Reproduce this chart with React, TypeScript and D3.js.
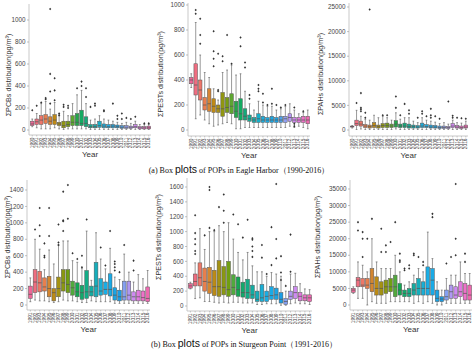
import React from "react";
import * as d3 from "d3";

// ---------- DATA ----------
const yearsEH = ["1990","1991","1992","1993","1994","1995","1996","1997","1998","1999","2000","2001","2002","2003","2004","2005","2006","2007","2008","2009","2010","2011","2012","2013","2014","2015","2016"];
const yearsSP = ["1991","1992","1993","1994","1995","1996","1997","1998","1999","2000","2001","2002","2003","2004","2005","2006","2007","2008","2009","2010","2011","2012","2013","2014","2015","2016"];

// [whiskerLow, q1, median, q3, whiskerHigh]
const pcbsEH = [[30,40,55,80,100],[20,50,75,100,150],[10,50,90,130,240],[10,60,100,140,260],[10,50,80,120,190],[20,50,90,140,250],[10,40,55,70,130],[5,20,40,80,170],[10,30,50,80,130],[10,40,70,130,240],[10,40,70,150,320],[10,40,60,180,360],[10,30,60,120,240],[5,20,30,50,90],[5,20,30,50,100],[5,25,40,80,130],[5,20,35,55,100],[5,20,30,50,90],[5,20,35,50,80],[5,20,30,45,70],[5,15,25,40,60],[5,15,25,40,70],[5,15,25,35,60],[5,20,30,50,80],[5,10,20,30,50],[5,10,20,30,50],[5,10,20,35,50]];
const pcbsEHOut = [[180],[220],[250],[280,290],[1100,510,350,240],[470,360,270],[150,135],[230,210],[220,200],[],[380],[440,400],[380,300],[210],[240,220],[],[180,170],[],[240],[130,100],[150,100],[110],[100],[120],[],[60],[60]];

const pestsEH = [[340,370,400,420,450],[90,280,360,530,860],[120,240,320,400,600],[80,160,200,260,460],[50,150,210,330,420],[30,140,190,250,330],[40,140,170,200,240],[50,110,170,300,460],[60,140,180,260,480],[50,130,190,290,520],[10,100,150,230,440],[10,80,130,250,450],[20,80,110,170,310],[20,70,90,120,210],[20,60,80,100,160],[20,60,90,130,230],[20,60,80,110,200],[20,60,80,100,190],[20,60,80,110,190],[20,60,80,100,160],[20,60,80,110,170],[20,60,90,110,190],[30,70,100,130,210],[20,60,80,100,160],[30,60,80,100,130],[20,60,80,110,140],[10,50,80,110,160]];
const pestsEHOut = [[],[960,930],[890,760,690],[],[],[790,630,570,510],[610,320,310],[590,550],[760],[530],[],[740,670],[540,500],[280,250],[],[360,330,310],[290,220],[200],[330,210],[200],[180],[200],[],[180,50,30],[],[150],[]];

const pahsEH = [[400,600,700,800,900],[100,900,1300,2000,4000],[200,800,1200,1800,2800],[100,500,800,1100,2200],[100,400,700,1000,2000],[100,500,900,1500,3000],[100,400,700,1000,2500],[100,500,900,1300,2800],[100,500,900,1400,2500],[100,500,800,1200,2000],[200,600,1200,1900,3500],[100,500,800,1200,2200],[100,500,800,1400,2500],[100,400,700,1200,2500],[100,400,700,1000,1800],[100,400,600,900,1500],[100,500,800,1400,2500],[100,500,700,1100,2000],[100,400,600,1000,1800],[100,400,600,900,1600],[100,300,500,800,1300],[100,300,500,800,1500],[100,300,500,700,1200],[100,500,800,1300,2000],[100,400,600,900,1500],[100,300,500,800,1400],[100,400,600,1000,1800]];
const pahsEHOut = [[],[5500],[7500,4500,4200,3800],[3500,2500],[24500],[],[],[3000],[3000],[],[6800,4500],[3000],[5300],[4000,3300],[],[2500],[3800,3300],[2800],[4300,3000,2500],[2800],[2300],[],[5800],[2900,2500],[2500],[2400],[2300]];

const pcbsSP = [[40,80,130,230,330],[60,150,280,430,800],[50,160,270,410,680],[50,170,220,330,430],[40,100,200,350,670],[30,50,150,200,500],[40,100,200,340,730],[60,170,270,430,780],[50,150,250,430,780],[50,120,210,290,540],[40,100,160,270,520],[30,70,150,240,450],[30,80,160,420,900],[50,110,160,230,300],[40,100,230,520,880],[40,120,170,320,560],[40,130,190,280,440],[40,110,190,380,690],[20,60,120,210,340],[20,50,100,180,310],[20,60,100,290,620],[20,60,120,290,400],[20,50,100,160,280],[20,50,100,180,370],[20,50,90,170,320],[20,40,80,220,420]];
const pcbsSPOut = [[],[920],[1180,970,840],[750,600,580],[1180,840],[],[980,760,730],[1380,1030,1020,900],[1460,1050],[630],[560],[600,460],[1040],[],[],[700],[480],[900],[530,500,460,420],[400],[730],[],[540,420],[],[],[]];

const pestsSP = [[230,240,270,300,320],[100,270,330,430,580],[110,270,380,580,1040],[60,200,330,510,760],[60,170,320,520,1000],[50,140,260,480,1000],[40,130,260,610,1080],[50,150,250,530,1000],[40,130,220,600,1120],[50,150,250,420,900],[50,130,220,390,720],[40,120,180,320,620],[40,100,180,360,720],[40,100,150,280,540],[20,60,90,200,460],[20,60,110,290,460],[30,60,130,200,400],[30,90,140,260,450],[30,90,150,240,430],[10,40,90,180,400],[10,20,60,100,200],[30,90,130,200,430],[40,100,180,260,440],[30,70,130,180,300],[30,70,110,150,230],[20,60,110,150,220]];
const pestsSPOut = [[],[1220,980,900,830,740,700],[],[950],[1600,1560,1050],[1020],[1330],[1500,1280,1120],[],[1230],[1100],[920],[1160],[910,890,800,740,660],[],[820,650],[430],[1060,550],[1640,900,640],[670,450,350],[270],[960,460],[],[],[],[]];

const pahsSP = [[3500,3800,4500,5000,5500],[2000,5500,7500,8300,13000],[2000,5500,6000,8000,12000],[0,5000,6000,8000,10000],[1000,4000,6500,11000,20000],[500,3000,5000,8500,13000],[500,3000,5000,7000,11000],[500,3500,5500,7500,11000],[1000,4000,5500,8000,11000],[1000,2500,5500,9000,15000],[1000,3000,4500,6500,10000],[1000,2500,3500,4500,6000],[1000,2500,3500,5000,7000],[500,3000,4500,6500,9000],[1000,3000,5000,8000,11000],[500,3000,5000,7000,10000],[1000,3000,5000,11500,22000],[500,3000,7500,11000,14000],[0,1000,2000,4500,7000],[0,1000,1800,2500,4500],[500,1500,2500,4500,8000],[500,2000,4000,6000,9000],[500,2000,3000,5500,9000],[500,2500,4000,7000,13000],[500,1500,3500,6500,9500],[500,1500,3000,6000,9500]];
const pahsSPOut = [[],[25000,22500],[22000,20000,14500],[20000],[26000],[],[23000,16000],[18000,16000],[19000],[25000],[15500,13500,13000],[11000,10500],[12000,11000],[15500,15000],[14500],[13000,12000],[],[27500,26500],[],[],[12500],[14500],[36500,20000,15000],[],[15500,13000],[]];

const ticksPCBsEH = [0,200,400,600,800,1000];
const ticksPESTsEH = [0,200,400,600,800,1000];
const ticksPAHsEH = [0,5000,10000,15000,20000,25000];
const ticksPCBsSP = [0,200,400,600,800,1000,1200,1400];
const ticksPESTsSP = [0,200,400,600,800,1000,1200,1400,1600];
const ticksPAHsSP = [0,5000,10000,15000,20000,25000,30000,35000];

// ---------- LAYOUT ----------
type Panel = {
  years: string[]; boxes: number[][]; outs: number[][]; ticks: number[]; label: string;
  x0: number; x1: number; axisTop: number; axisBottom: number; refVal: number; refPx: number; zeroPx: number; labelX: number; labelY: number;
};

const panels: Panel[] = [
  { years: yearsEH, boxes: pcbsEH, outs: pcbsEHOut, ticks: ticksPCBsEH, label: "ΣPCBs distribution(pg/m³)", x0: 29, x1: 151, axisTop: 4, axisBottom: 135, refVal: 1000, refPx: 20, zeroPx: 130, labelX: 8, labelY: 75 },
  { years: yearsEH, boxes: pestsEH, outs: pestsEHOut, ticks: ticksPESTsEH, label: "ΣPESTs distribution(pg/m³)", x0: 188, x1: 310, axisTop: 3, axisBottom: 136, refVal: 1000, refPx: 5, zeroPx: 130, labelX: 160, labelY: 74 },
  { years: yearsEH, boxes: pahsEH, outs: pahsEHOut, ticks: ticksPAHsEH, label: "ΣPAHs distribution(pg/m³)", x0: 349, x1: 468, axisTop: 3, axisBottom: 136, refVal: 25000, refPx: 7, zeroPx: 130, labelX: 320, labelY: 74 },
  { years: yearsSP, boxes: pcbsSP, outs: pcbsSPOut, ticks: ticksPCBsSP, label: "ΣPCBs distribution(pg/m³)", x0: 27, x1: 150, axisTop: 180, axisBottom: 310, refVal: 1400, refPx: 190, zeroPx: 305, labelX: 7, labelY: 237 },
  { years: yearsSP, boxes: pestsSP, outs: pestsSPOut, ticks: ticksPESTsSP, label: "ΣPESTs distribution(pg/m³)", x0: 187, x1: 312, axisTop: 178, axisBottom: 311, refVal: 1600, refPx: 187, zeroPx: 306, labelX: 158, labelY: 237 },
  { years: yearsSP, boxes: pahsSP, outs: pahsSPOut, ticks: ticksPAHsSP, label: "ΣPAHs distribution(pg/m³)", x0: 350, x1: 472, axisTop: 180, axisBottom: 310, refVal: 35000, refPx: 189, zeroPx: 305, labelX: 317, labelY: 237 },
];

function palette(n: number): string[] {
  const out: string[] = [];
  for (let i = 0; i < n; i++) {
    const h = 8 + (360 * i) / n;
    const c = d3.rgb(d3.hcl(h, 75, 66) as any);
    const rgb = d3.rgb(Math.max(0, Math.min(255, c.r)), Math.max(0, Math.min(255, c.g)), Math.max(0, Math.min(255, c.b)));
    const hs = d3.hsl(rgb);
    hs.s *= 0.8;
    out.push(hs.formatHex());
  }
  return out;
}

const sans = "'Liberation Sans', Arial, sans-serif";
const edge = "#555";

function BoxPanel({ p }: { p: Panel }) {
  const y = d3.scaleLinear().domain([0, p.refVal]).range([p.zeroPx, p.refPx]);
  const x = d3.scaleBand().domain(p.years).range([p.x0 + 1, p.x1]).paddingInner(0.2).paddingOuter(0.1);
  const colors = palette(p.years.length);
  const bw = x.bandwidth();
  const cx = (yr: string) => (x(yr) as number) + bw / 2;
  const midX = (p.x0 + p.x1) / 2;
  return (
    <g>
      <line x1={p.x0} x2={p.x0} y1={p.axisTop} y2={p.axisBottom} stroke="#bbb" strokeWidth={0.8} />
      <line x1={p.x0} x2={p.x1} y1={p.axisBottom} y2={p.axisBottom} stroke="#bbb" strokeWidth={0.8} />
      {p.ticks.map((t) => (
        <g key={t}>
          <line x1={p.x0 - 2} x2={p.x0} y1={y(t)} y2={y(t)} stroke="#999" strokeWidth={0.6} />
          <text x={p.x0 - 3.5} y={y(t)} dy="0.35em" textAnchor="end" fontSize={6.3} fill="#444" fontFamily={sans}>{t}</text>
        </g>
      ))}
      {p.years.map((yr) => (
        <g key={yr}>
          <line x1={cx(yr)} x2={cx(yr)} y1={p.axisBottom} y2={p.axisBottom + 1.5} stroke="#999" strokeWidth={0.5} />
          <text transform={`translate(${cx(yr) + 1.6},${p.axisBottom + 2.5}) rotate(-90)`} textAnchor="end" fontSize={4.8} fill="#444" fontFamily={sans}>{yr}</text>
        </g>
      ))}
      {p.boxes.map((b, i) => {
        const yr = p.years[i];
        const c = cx(yr);
        const x0 = x(yr) as number;
        return (
          <g key={yr}>
            <line x1={c} x2={c} y1={y(b[0])} y2={y(b[1])} stroke={edge} strokeWidth={0.6} />
            <line x1={c} x2={c} y1={y(b[3])} y2={y(b[4])} stroke={edge} strokeWidth={0.6} />
            <line x1={c - bw / 4} x2={c + bw / 4} y1={y(b[0])} y2={y(b[0])} stroke={edge} strokeWidth={0.6} />
            <line x1={c - bw / 4} x2={c + bw / 4} y1={y(b[4])} y2={y(b[4])} stroke={edge} strokeWidth={0.6} />
            <rect x={x0} width={bw} y={y(b[3])} height={Math.max(0.5, y(b[1]) - y(b[3]))} fill={colors[i]} stroke={edge} strokeWidth={0.5} />
            <line x1={x0} x2={x0 + bw} y1={y(b[2])} y2={y(b[2])} stroke={edge} strokeWidth={0.7} />
            {p.outs[i].map((o, j) => (
              <path key={j} d={`M${c},${y(o) - 1.3}L${c + 1.1},${y(o)}L${c},${y(o) + 1.3}L${c - 1.1},${y(o)}Z`} fill="#333" />
            ))}
          </g>
        );
      })}
      <text x={midX} y={p.axisBottom + 22} textAnchor="middle" fontSize={8} fill="#333" fontFamily={sans}>Year</text>
      <text transform={`translate(${p.labelX},${p.labelY}) rotate(-90)`} textAnchor="middle" dy="0.35em" fontSize={7.2} fill="#333" fontFamily={sans}>{p.label}</text>
    </g>
  );
}

export default function App() {
  const serif = "'Liberation Serif', 'DejaVu Serif', serif";
  return (
    <svg width={474} height={349} style={{ position: "absolute", left: 0, top: 0, background: "#fff" }}>
      <rect width={474} height={349} fill="#fff" />
      {panels.map((p, i) => <BoxPanel key={i} p={p} />)}
      <text x={239} y={173} textAnchor="middle" fontSize={8} fill="#111" fontFamily={serif}>
        (a) Box <tspan fontSize={10.5} fontFamily={sans}>plots</tspan> of POPs in Eagle Harbor（1990-2016）
      </text>
      <text x={244} y={347} textAnchor="middle" fontSize={8} fill="#111" fontFamily={serif}>
        (b) Box <tspan fontSize={10.5} fontFamily={sans}>plots</tspan> of POPs in Sturgeon Point（1991-2016）
      </text>
    </svg>
  );
}
